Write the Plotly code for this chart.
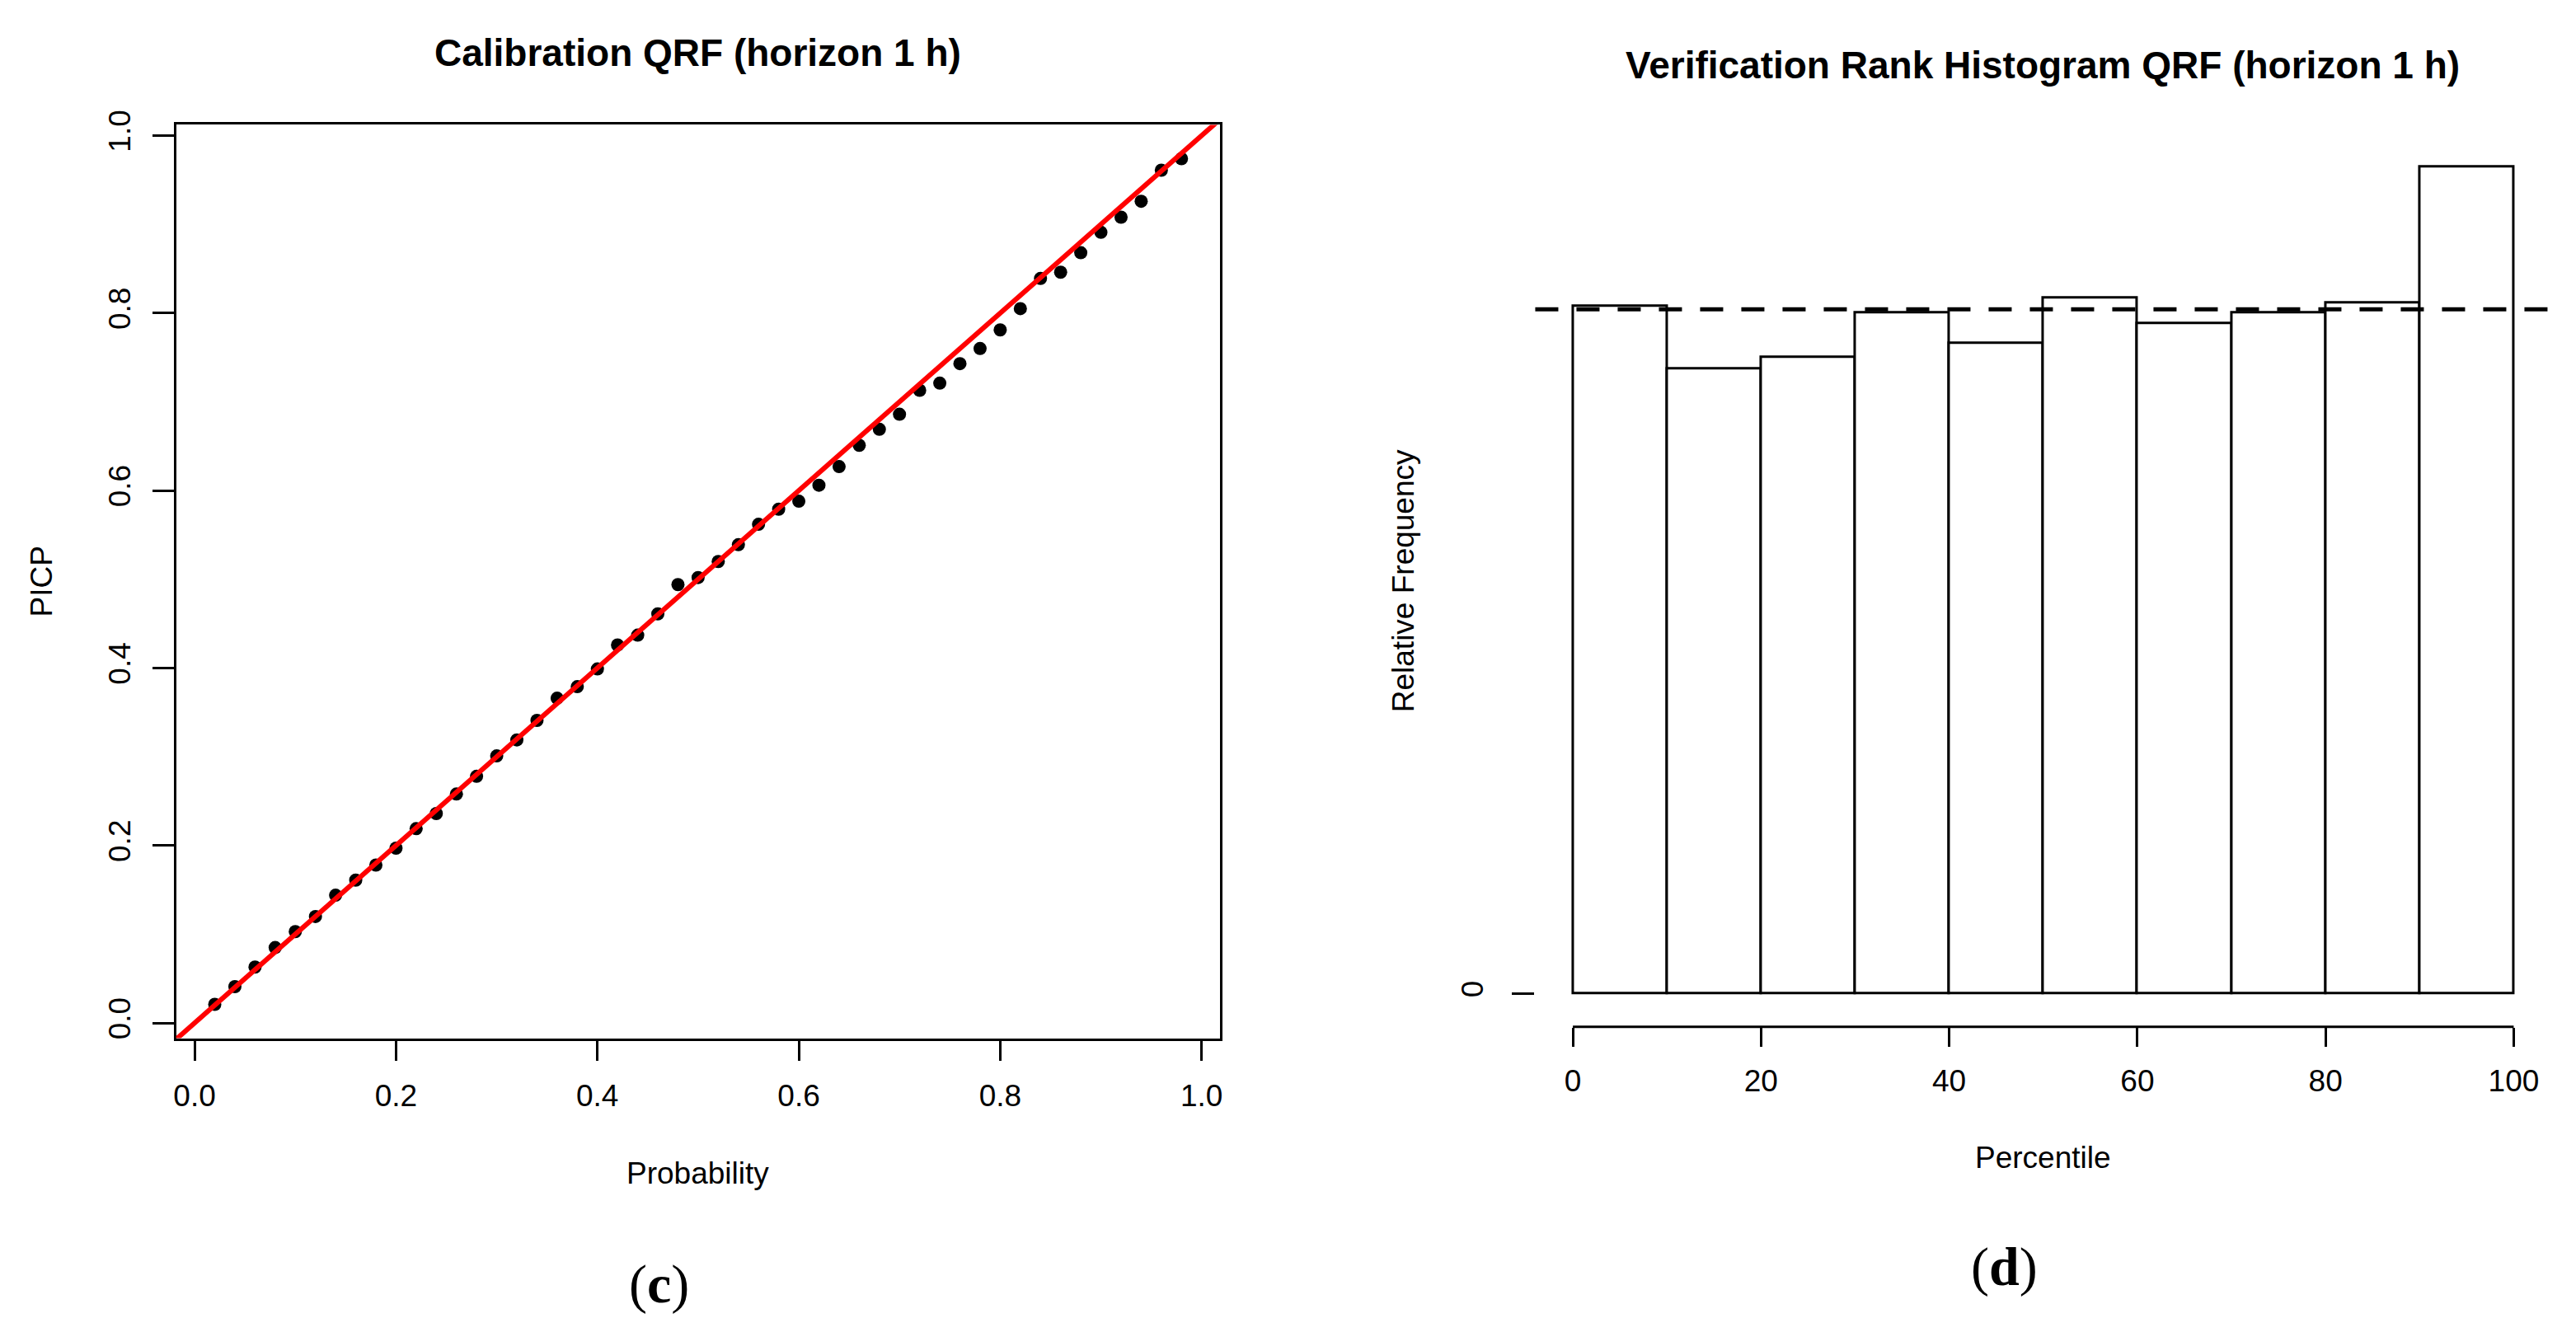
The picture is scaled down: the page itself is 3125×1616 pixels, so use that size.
import plotly.graph_objects as go

# calibration panel (c)
probability = [0.02, 0.04, 0.06, 0.08, 0.10, 0.12, 0.14, 0.16, 0.18, 0.20,
               0.22, 0.24, 0.26, 0.28, 0.30, 0.32, 0.34, 0.36, 0.38, 0.40,
               0.42, 0.44, 0.46, 0.48, 0.50, 0.52, 0.54, 0.56, 0.58, 0.60,
               0.62, 0.64, 0.66, 0.68, 0.70, 0.72, 0.74, 0.76, 0.78, 0.80,
               0.82, 0.84, 0.86, 0.88, 0.90, 0.92, 0.94, 0.96, 0.98]
picp = [0.021, 0.041, 0.063, 0.085, 0.103, 0.120, 0.144, 0.161, 0.178, 0.197,
        0.219, 0.236, 0.258, 0.278, 0.301, 0.319, 0.341, 0.366, 0.379, 0.399,
        0.426, 0.437, 0.461, 0.494, 0.502, 0.520, 0.539, 0.562, 0.579, 0.588,
        0.606, 0.627, 0.651, 0.669, 0.686, 0.713, 0.721, 0.743, 0.760, 0.781,
        0.805, 0.839, 0.846, 0.868, 0.891, 0.908, 0.926, 0.961, 0.974]
calib_ticks = [0.0, 0.2, 0.4, 0.6, 0.8, 1.0]

# rank histogram panel (d)
pct_edges = [0, 10, 20, 30, 40, 50, 60, 70, 80, 90, 100]
rel_freq = [0.1005, 0.0913, 0.0930, 0.0995, 0.0950, 0.1017, 0.0979, 0.0995, 0.1009, 0.1208]
pct_ticks = [0, 20, 40, 60, 80, 100]

FONT = "Liberation Sans"
W, H = 3125, 1616


def rlim(lo, hi):
    # R default axis extension of 4%
    d = (hi - lo) * 0.04
    return [lo - d, hi + d]


centers = [(a + b) / 2 for a, b in zip(pct_edges[:-1], pct_edges[1:])]
widths = [b - a for a, b in zip(pct_edges[:-1], pct_edges[1:])]
expected = 1.0 / len(rel_freq)

fig = go.Figure()
fig.add_trace(go.Scatter(x=probability, y=picp, mode="markers",
                         marker=dict(color="black", size=16),
                         xaxis="x", yaxis="y", showlegend=False))
fig.add_trace(go.Bar(x=centers, y=rel_freq, width=widths,
                     marker=dict(color="white", line=dict(color="black", width=3)),
                     xaxis="x2", yaxis="y2", showlegend=False))

# abline(0, 1)
fig.add_shape(type="line", xref="x", yref="y", x0=-1, y0=-1, x1=2, y1=2,
              line=dict(color="#ff0000", width=6), layer="above")
# abline(h = 1/nbins)
fig.add_shape(type="line", xref="x2 domain", yref="y2", x0=0, x1=1,
              y0=expected, y1=expected,
              line=dict(color="black", width=5, dash="28px,22px"), layer="above")
# R style axis line only between first and last tick
fig.add_shape(type="line", xref="x2", yref="y2 domain", x0=pct_ticks[0], x1=pct_ticks[-1],
              y0=0, y1=0, line=dict(color="black", width=3))

tickfont = dict(family=FONT, size=37, color="black")
common = dict(showgrid=False, zeroline=False, ticks="outside", tickwidth=3,
              tickcolor="black", tickfont=tickfont)
calib_text = ["%.1f" % t for t in calib_ticks]

fig.update_layout(
    width=W, height=H, margin=dict(l=0, r=0, t=0, b=0),
    paper_bgcolor="white", plot_bgcolor="white", bargap=0,
    xaxis=dict(domain=[203 / W, 1472 / W], range=rlim(min(probability), max(probability)),
               tickvals=calib_ticks, ticktext=calib_text,
               showline=True, mirror=True, linecolor="black", linewidth=3,
               ticklen=24, ticklabelstandoff=11, anchor="y", **common),
    yaxis=dict(domain=[1 - 1249 / H, 1 - 127 / H], range=rlim(min(picp), max(picp)),
               tickvals=calib_ticks, ticktext=calib_text,
               tickangle=-90, showline=True, mirror=True, linecolor="black",
               linewidth=3, ticklen=26, ticklabelstandoff=12, anchor="x", **common),
    xaxis2=dict(domain=[1855 / W, 3090 / W], range=rlim(pct_edges[0], pct_edges[-1]),
                tickvals=pct_ticks, showline=False, ticklen=23, ticklabelstandoff=10,
                anchor="y2", **common),
    yaxis2=dict(domain=[1 - 1235 / H, 1 - 138 / H], range=rlim(0, max(rel_freq)),
                tickvals=[0], ticktext=["0"], tickangle=-90, showline=False,
                ticklen=27, ticklabelstandoff=21, anchor="x2", **common),
)


def note(text, x, y, size, angle=0, family=FONT):
    fig.add_annotation(text=text, x=x / W, y=1 - y / H, xref="paper", yref="paper",
                       showarrow=False, textangle=angle,
                       font=dict(family=family, size=size, color="black"),
                       xanchor="center", yanchor="middle")


note("<b>Calibration QRF (horizon 1 h)</b>", 837, 38, 46)
note("Probability", 837, 1415, 37)
note("PICP", 40, 688, 37, angle=-90)
note("(<b>c</b>)", 790, 1551, 66, family="Liberation Serif")

note("<b>Verification Rank Histogram QRF (horizon 1 h)</b>", 2472, 54, 46)
note("Percentile", 2472, 1396, 37)
note("Relative Frequency", 1695, 687, 37, angle=-90)
note("(<b>d</b>)", 2425, 1530, 66, family="Liberation Serif")

fig.write_html("out.html")
